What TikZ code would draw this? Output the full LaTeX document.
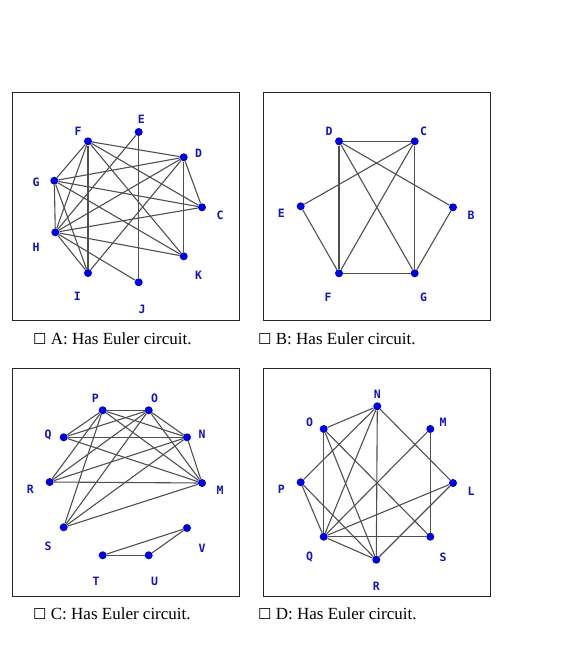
\documentclass[tikz,border=0pt]{standalone}
\usepackage{fontspec}
\setmainfont{Liberation Serif}
\newfontfamily\lblfont{DejaVu Sans Mono Bold}
\newfontfamily\symfont{DejaVu Sans}
\definecolor{vblue}{RGB}{0,0,225}
\definecolor{lblue}{RGB}{20,20,190}
\definecolor{edgegray}{RGB}{80,80,80}
\tikzset{
  vtx/.style={circle,fill=vblue,inner sep=0pt,minimum size=8pt},
  lbl/.style={text=lblue,font=\lblfont\fontsize{11.5}{12}\selectfont,inner sep=0pt},
  edge/.style={draw=edgegray,line width=1.1pt},
  panel/.style={draw=black!85,line width=1pt},
  captxt/.style={anchor=base west,inner sep=0pt,font=\fontsize{17}{20}\selectfont}
}
\begin{document}
\begin{tikzpicture}[x=1pt,y=-1pt]
\useasboundingbox (0,0) rectangle (584,666);
% panel frames
\draw[panel] (12,93) rectangle (239.5,320.5);
\draw[panel] (263,93) rectangle (490.5,320.5);
\draw[panel] (12,368) rectangle (239.5,596);
\draw[panel] (263,368) rectangle (490.5,596);

% ---------- Panel A ----------
\foreach \n/\x/\y in {E/138.7/132, F/88/141.3, D/183.7/157.3, G/54.3/180.7, C/202/207.3, H/55.3/232.3, K/183.7/256.3, I/88/273, J/138.7/282.3}
  \node[vtx] (a\n) at (\x,\y) {};
\foreach \n/\x/\y in {E/141.3/119, F/78/131.3, D/198.7/153.7, G/36/182.3, C/220/215, H/36/247, K/198.7/275.7, I/77.3/296.3, J/142/309}
  \node[lbl] (la\n) at (\x,\y) {\n};
\foreach \u/\v in {F/G, F/H, F/I, F/D, F/C, F/K, G/H, G/I, G/D, G/C, G/K, H/E, H/D, H/C, H/K, H/J, H/I, D/I, D/C, D/K, E/J}
  \draw[edge] (a\u) -- (a\v);

% ---------- Panel B ----------
\foreach \n/\x/\y in {D/339/141.3, C/414.7/141.3, E/300.7/206.3, B/453/207.3, F/339/273.3, G/414.7/273.3}
  \node[vtx] (b\n) at (\x,\y) {};
\foreach \n/\x/\y in {D/329/131.3, C/423.7/131.3, E/281.3/213.7, B/471/215, F/328/297, G/423.7/297}
  \node[lbl] (lb\n) at (\x,\y) {\n};
\foreach \u/\v in {D/C, D/F, D/B, D/G, C/G, C/E, C/F, E/F, B/G, F/G}
  \draw[edge] (b\u) -- (b\v);

% ---------- Panel C ----------
\foreach \n/\x/\y in {P/102.7/410.3, O/148.7/410.3, Q/63.7/437.3, N/187/437.3, R/49.7/482, M/202/483, S/63.7/527.3, V/187/528, T/102.7/555.3, U/148.7/555.3}
  \node[vtx] (c\n) at (\x,\y) {};
\foreach \n/\x/\y in {P/95.3/398.7, O/154.7/398.7, Q/48/434.7, N/202/434.7, R/30.3/489.7, M/220/490.7, S/48/546.3, V/202/548, T/96/581.3, U/154.7/581.3}
  \node[lbl] (lc\n) at (\x,\y) {\n};
\foreach \u/\v in {P/O, P/Q, P/R, P/S, P/N, P/M, O/Q, O/R, O/S, O/N, O/M, Q/N, Q/M, R/N, R/M, N/M, N/S, M/S, T/U, T/V, U/V}
  \draw[edge] (c\u) -- (c\v);

% ---------- Panel D ----------
\foreach \n/\x/\y in {N/377.3/406.3, O/323.7/429, M/430.3/429, P/300.7/482.3, L/453/483, Q/323.7/536.7, S/430.3/536.7, R/376.3/559.7}
  \node[vtx] (d\n) at (\x,\y) {};
\foreach \n/\x/\y in {N/377.3/394, O/309.7/422.3, M/443/422.3, P/281.3/489.7, L/471/491.3, Q/309.7/557.3, S/443/557.3, R/376.3/586.3}
  \node[lbl] (ld\n) at (\x,\y) {\n};
\foreach \u/\v in {N/O, N/P, N/Q, N/R, N/L, O/Q, O/R, O/S, M/Q, M/S, P/Q, P/R, L/Q, L/R, Q/S, Q/R}
  \draw[edge] (d\u) -- (d\v);

% ---------- captions ----------
\node[captxt] (capA) at (33,344) {{\symfont\fontsize{15}{18}\selectfont ☐} A: Has Euler circuit.};
\node[captxt] (capB) at (258,344) {{\symfont\fontsize{15}{18}\selectfont ☐} B: Has Euler circuit.};
\node[captxt] (capC) at (33,619) {{\symfont\fontsize{15}{18}\selectfont ☐} C: Has Euler circuit.};
\node[captxt] (capD) at (258,619) {{\symfont\fontsize{15}{18}\selectfont ☐} D: Has Euler circuit.};
\end{tikzpicture}
\end{document}
